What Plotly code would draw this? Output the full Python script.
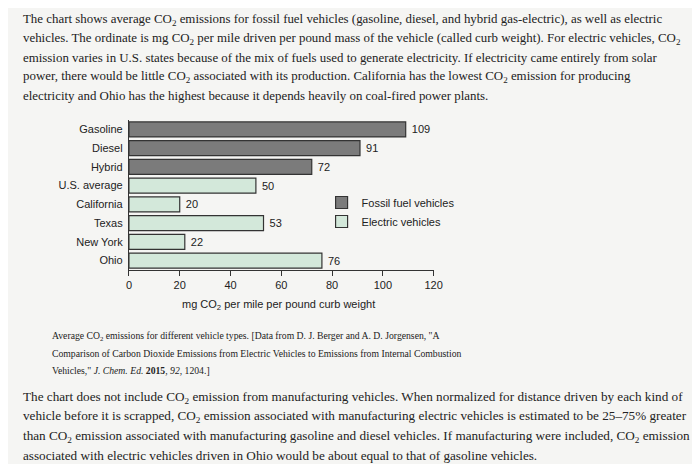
import plotly.graph_objects as go

categories = ["Gasoline", "Diesel", "Hybrid", "U.S. average", "California", "Texas", "New York", "Ohio"]
fossil_cats = ["Gasoline", "Diesel", "Hybrid"]
fossil_vals = [109, 91, 72]
electric_cats = ["U.S. average", "California", "Texas", "New York", "Ohio"]
electric_vals = [50, 20, 53, 22, 76]
x_ticks = [0, 20, 40, 60, 80, 100, 120]

W, H = 700, 464

top_lines = [
    "The chart shows average CO<sub>2</sub> emissions for fossil fuel vehicles (gasoline, diesel, and hybrid gas-electric), as well as electric",
    "vehicles. The ordinate is mg CO<sub>2</sub> per mile driven per pound mass of the vehicle (called curb weight). For electric vehicles, CO<sub>2</sub>",
    "emission varies in U.S. states because of the mix of fuels used to generate electricity. If electricity came entirely from solar",
    "power, there would be little CO<sub>2</sub> associated with its production. California has the lowest CO<sub>2</sub> emission for producing",
    "electricity and Ohio has the highest because it depends heavily on coal-fired power plants.",
]
caption_lines = [
    "Average CO<sub>2</sub> emissions for different vehicle types. [Data from D. J. Berger and A. D. Jorgensen, \"A",
    "Comparison of Carbon Dioxide Emissions from Electric Vehicles to Emissions from Internal Combustion",
    "Vehicles,\" <i>J. Chem. Ed.</i> <b>2015</b>, <i>92</i>, 1204.]",
]
bottom_lines = [
    "The chart does not include CO<sub>2</sub> emission from manufacturing vehicles. When normalized for distance driven by each kind of",
    "vehicle before it is scrapped, CO<sub>2</sub> emission associated with manufacturing electric vehicles is estimated to be 25–75% greater",
    "than CO<sub>2</sub> emission associated with manufacturing gasoline and diesel vehicles. If manufacturing were included, CO<sub>2</sub> emission",
    "associated with electric vehicles driven in Ohio would be about equal to that of gasoline vehicles.",
]

fig = go.Figure()
fig.add_trace(go.Bar(y=fossil_cats, x=fossil_vals, orientation="h", name="Fossil fuel vehicles",
                     marker=dict(color="#7b7b7b", line=dict(color="#333", width=1.2)),
                     texttemplate=" %{x}", textposition="outside", width=0.8,
                     textfont=dict(size=11, color="#222")))
fig.add_trace(go.Bar(y=electric_cats, x=electric_vals, orientation="h", name="Electric vehicles",
                     marker=dict(color="#d3e8da", line=dict(color="#333", width=1.2)),
                     texttemplate=" %{x}", textposition="outside", width=0.8,
                     textfont=dict(size=11, color="#222")))

ann = []
def line(txt, px, py, size, font="Liberation Serif"):
    ann.append(dict(text=txt, x=px / W, y=1 - py / H, xref="paper", yref="paper",
                    xanchor="left", yanchor="middle", showarrow=False,
                    font=dict(family=font, size=size, color="#222")))

for i, t in enumerate(top_lines):
    line(t, 10, 12 + i * 19, 12.9)
for i, t in enumerate(caption_lines):
    line(t, 40, 328 + i * 17, 9.7)
for i, t in enumerate(bottom_lines):
    line(t, 10, 389 + i * 19.5, 13.2)
ann.append(dict(text="mg CO<sub>2</sub> per mile per pound curb weight", x=272 / W, y=1 - 297 / H,
                xref="paper", yref="paper", showarrow=False,
                font=dict(family="Liberation Sans", size=11, color="#222")))

fig.update_layout(
    width=W, height=H, margin=dict(l=0, r=0, t=0, b=0),
    paper_bgcolor="#f5f5f3", plot_bgcolor="#f5f5f3",
    barmode="overlay", bargap=0.2,
    font=dict(family="Liberation Sans", size=11, color="#222"),
    xaxis=dict(domain=[120 / W, 430 / W], range=[0, 120], tickvals=x_ticks,
               showgrid=False, zeroline=False, showline=True, linecolor="#333",
               ticks="outside", ticklen=5, tickcolor="#333"),
    yaxis=dict(domain=[1 - 262 / H, 1 - 112 / H], categoryorder="array",
               categoryarray=categories[::-1], showline=True, linecolor="#333",
               showgrid=False, ticks="", ticksuffix=" "),
    legend=dict(x=316 / W, y=1 - 180 / H, xanchor="left", yanchor="top",
                bgcolor="rgba(0,0,0,0)", font=dict(size=11), tracegroupgap=6),
    annotations=ann,
)

fig.write_html("out.html")
